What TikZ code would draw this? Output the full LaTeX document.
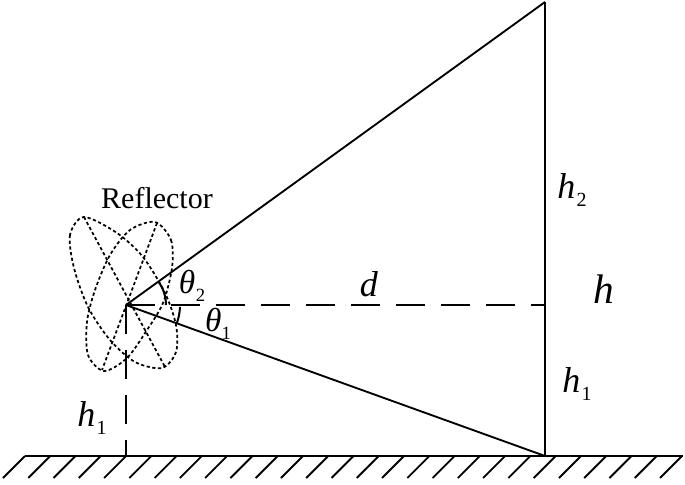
\documentclass[tikz,border=0pt]{standalone}
\usepackage{fontspec}
\setmainfont{Liberation Serif}
\newcommand{\symsub}[5]{{\fontsize{#3}{#3}\selectfont\textit{#1}}\kern#5\raisebox{-6.5pt}{\fontsize{#4}{#4}\selectfont #2}}
\tikzset{every picture/.style={line width=0.75pt}}
\tikzset{solidline/.style={line width=1.4pt},
  axisdash/.style={line width=1.4pt,dash pattern={on 21.75pt off 12pt}},
  petal/.style={line width=1.3pt,dash pattern={on 2.4pt off 1.9pt}},
  anglearc/.style={line width=1.5pt}}

\begin{document}
\begin{tikzpicture}[x=0.75pt,y=0.75pt,yscale=-1,xscale=1]
\useasboundingbox (0,0) rectangle (685,485);

\coordinate (source) at (126,305);
\coordinate (top) at (545,2);
\coordinate (foot) at (545,456);
\coordinate (mid) at (545,305);
\coordinate (base) at (126,456);
\coordinate (groundL) at (25,456);
\coordinate (groundR) at (683,456);

%Ground
\draw [solidline] (groundL) -- (groundR);
\foreach \i in {0,...,26}
  \draw [solidline] (25+25.27*\i,456) -- (3+25.27*\i,478);

%Straight Lines
\draw [solidline] (source) -- (top);
\draw [solidline] (source) -- (foot);
\draw [solidline] (top) -- (foot);
\draw [axisdash] (source) -- (mid);
\draw [axisdash] (source) -- (base);

%Reflector petals
\draw [petal] plot [smooth cycle] coordinates {(84,217) (70,235) (74,268) (88,307) (110,340) (135,362) (162,368) (176,352) (176,325) (165,293) (143,257) (117,233)};
\draw [petal] plot [smooth cycle] coordinates {(155,222) (171,240) (172,268) (163,303) (147,330) (127,358) (104,371) (88,355) (87,322) (95,290) (110,255) (130,230)};
\draw [petal] (84,217) -- (165,367);
\draw [petal] (157,223) -- (102,370);

%Arcs
\draw [anglearc] (source) ++(-36:40) arc (-36:0:40);
\draw [anglearc] (source) ++(2:54) arc (2:19.7:54);

% Text Node
\node (reflector) at (157,198) {\fontsize{22.5}{22.5}\selectfont Reflector};
\node (dlabel) at (369,284) {\fontsize{27}{27}\selectfont\textit{d}};
\node (hlabel) at (604,289) {\fontsize{31}{31}\selectfont\textit{h}};
\node (htwo) at (572,190) {\symsub{h}{2}{27}{15}{1pt}};
\node (hone) at (577,384) {\symsub{h}{1}{27}{15}{1pt}};
\node (hleft) at (92,418) {\symsub{h}{1}{27}{15}{1pt}};
\node (thetatwo) at (192,286) {\symsub{θ}{2}{25}{14}{0.5pt}};
\node (thetaone) at (218,324) {\symsub{θ}{1}{25}{14}{0pt}};

\end{tikzpicture}
\end{document}
